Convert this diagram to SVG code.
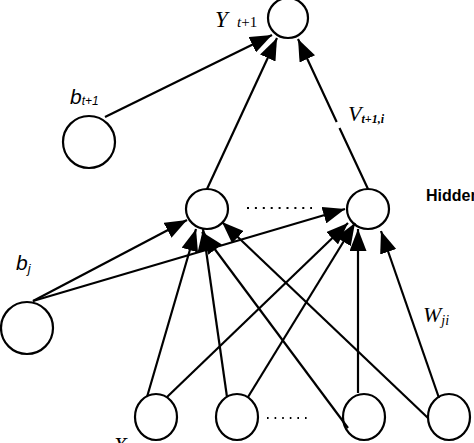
<svg xmlns="http://www.w3.org/2000/svg" width="474" height="443" viewBox="0 0 474 443">
<style>
.node{fill:#fff;stroke:#000;stroke-width:2.2}
.edge{fill:none;stroke:#000;stroke-width:2.2;marker-end:url(#ah)}
.dots{fill:none;stroke:#000;stroke-width:2}
.serif{font-family:"Liberation Serif","Times New Roman",serif;font-style:italic;fill:#000}
.sans{font-family:"Liberation Sans",Arial,sans-serif;fill:#000}
</style>
<defs>
<marker id="ah" markerUnits="userSpaceOnUse" markerWidth="22" markerHeight="17" viewBox="0 0 22 17" refX="22" refY="8.5" orient="auto">
<path d="M0,0 L22,8.5 L0,17 z" fill="#000"/>
</marker>
</defs>
<rect width="474" height="443" fill="#fff"/>
<g id="output"><ellipse class="node" cx="288" cy="18" rx="20" ry="20"/></g>
<g id="bias_out"><ellipse class="node" cx="89" cy="142" rx="26" ry="26"/></g>
<g id="hidden1"><ellipse class="node" cx="207" cy="209" rx="21" ry="20"/></g>
<g id="hidden2"><ellipse class="node" cx="368" cy="209" rx="21" ry="20"/></g>
<g id="bias_hidden"><ellipse class="node" cx="27" cy="328" rx="26" ry="26"/></g>
<g id="input1"><ellipse class="node" cx="156" cy="417" rx="21" ry="23"/></g>
<g id="input2"><ellipse class="node" cx="237" cy="417" rx="21" ry="23"/></g>
<g id="input3"><ellipse class="node" cx="364" cy="417" rx="21" ry="23"/></g>
<g id="input4"><ellipse class="node" cx="449" cy="417" rx="21" ry="23"/></g>
<g id="connectors">
<line class="edge" x1="105" y1="117" x2="272" y2="35"/>
<line class="edge" x1="207" y1="189" x2="277" y2="38"/>
<path class="edge" d="M368,189 L339.5,128 M336.7,122 L298,39"/>
<line class="edge" x1="33" y1="301" x2="187" y2="220"/>
<line class="edge" x1="33" y1="301" x2="345" y2="209"/>
<line class="edge" x1="147" y1="397" x2="196" y2="229"/>
<line class="edge" x1="227" y1="397" x2="203" y2="229"/>
<line class="edge" x1="348" y1="428" x2="202" y2="232"/>
<line class="edge" x1="428" y1="418" x2="222" y2="222"/>
<line class="edge" x1="167" y1="397" x2="348" y2="223"/>
<line class="edge" x1="248" y1="397" x2="355" y2="223"/>
<line class="edge" x1="358" y1="393" x2="358" y2="229"/>
<line class="edge" x1="439" y1="398" x2="381" y2="231"/>
</g>
<g id="ellipses">
<line class="dots" x1="247" y1="208" x2="312" y2="208" stroke-dasharray="2 5.9"/>
<line class="dots" x1="267" y1="418" x2="307" y2="418" stroke-dasharray="1.6 6"/>
</g>
<g id="labels">
<text class="serif" x="215" y="27" font-size="23">Y</text>
<text class="serif" x="237" y="27" font-size="15">t<tspan font-style="normal">+1</tspan></text>
<text class="sans" x="70" y="104" font-size="21" font-style="italic">b<tspan font-size="12" dy="1">t+1</tspan></text>
<text class="serif" x="348" y="121" font-size="22">V<tspan font-size="12" font-weight="bold" dy="2">t+1,i</tspan></text>
<text class="sans" x="426" y="201" font-size="16" font-weight="bold">Hidden</text>
<text class="serif" x="423" y="322" font-size="22">W<tspan font-size="14" dy="3">ji</tspan></text>
<text class="sans" x="16" y="270" font-size="21" font-style="italic">b<tspan font-size="13" dy="3">j</tspan></text>
<text class="serif" x="113" y="453" font-size="23">X</text>
</g>
</svg>
